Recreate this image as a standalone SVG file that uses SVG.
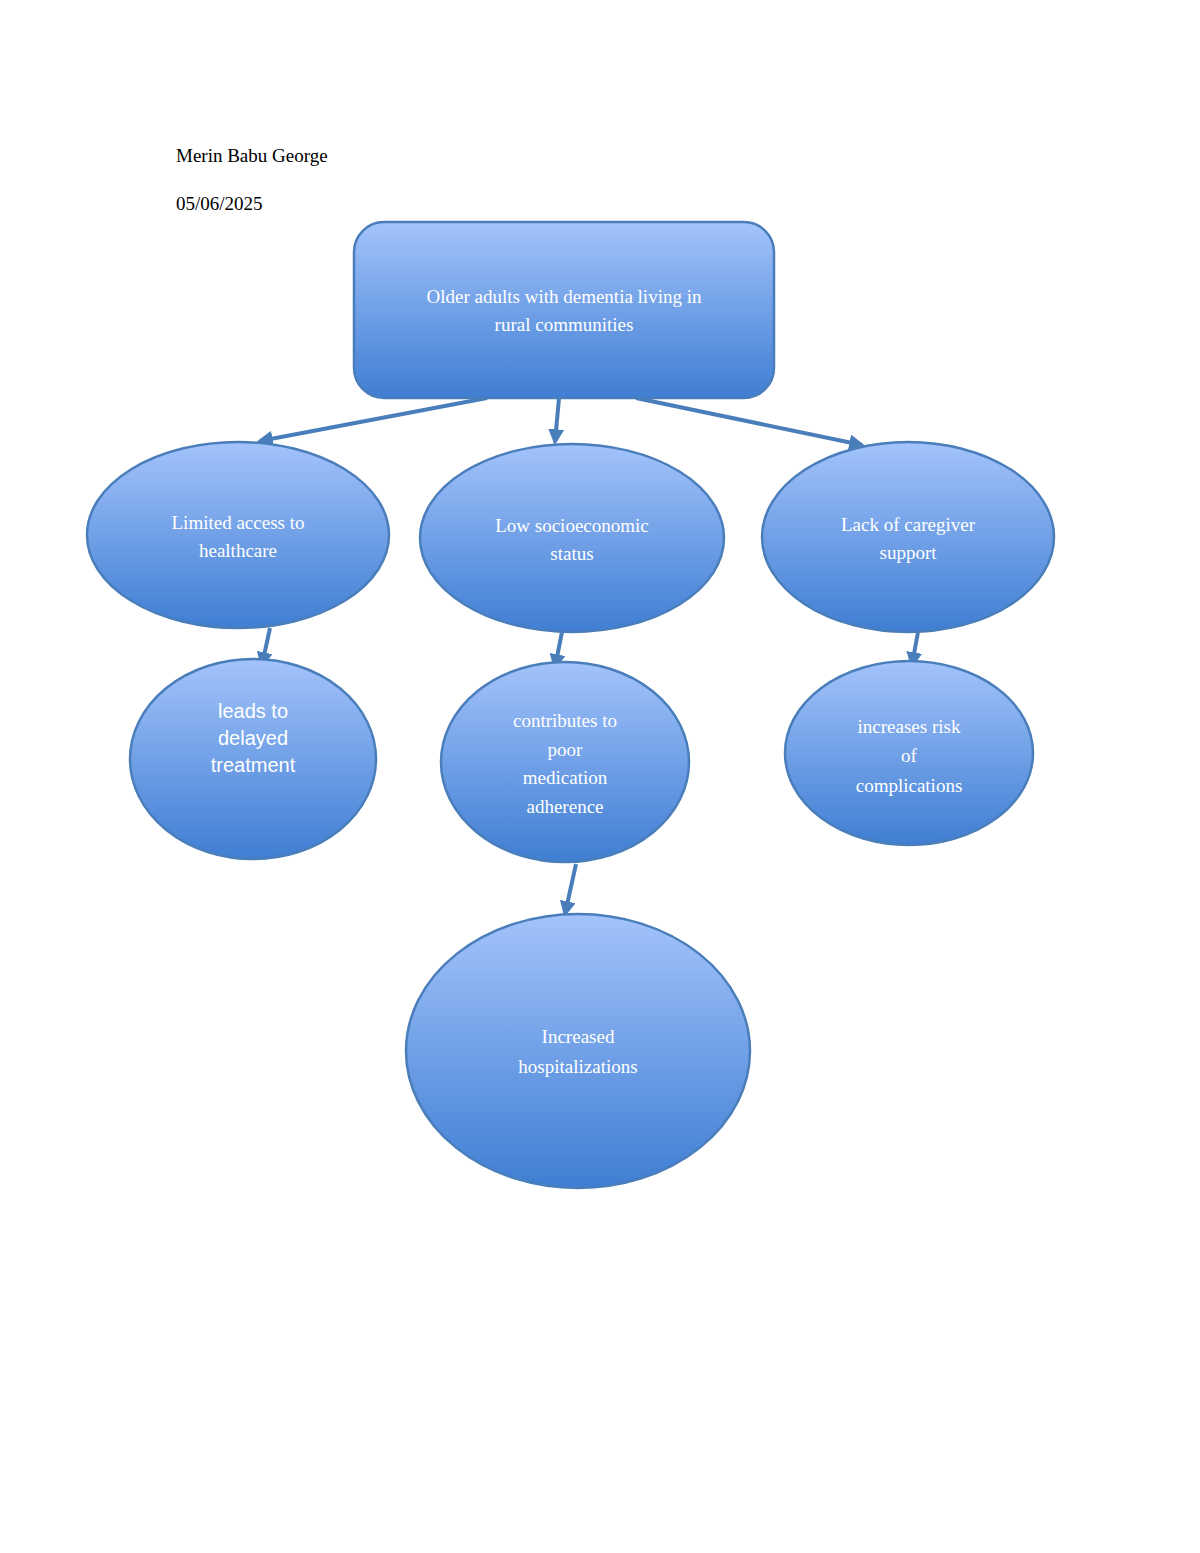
<svg xmlns="http://www.w3.org/2000/svg" width="1200" height="1553" viewBox="0 0 1200 1553">
<defs>
<linearGradient id="g" x1="0" y1="0" x2="0" y2="1">
<stop offset="0" stop-color="#a3c3fb"/><stop offset="1" stop-color="#3f7ed3"/>
</linearGradient>
<marker id="a" viewBox="0 0 10 10" refX="8" refY="5" markerWidth="4" markerHeight="4" orient="auto"><path d="M0,0 L10,5 L0,10 z" fill="#4a7ebb"/></marker>
</defs>
<style>
.n{fill:url(#g);stroke:#4a7ebb;stroke-width:2.5}
.t{fill:#fff;font-family:"Liberation Serif",serif;font-size:19px;text-anchor:middle}
.s{fill:#fff;font-family:"Liberation Sans",sans-serif;font-size:20px;text-anchor:middle}
.c{stroke:#4a7ebb;stroke-width:4;fill:none;marker-end:url(#a)}
.h{font-family:"Liberation Serif",serif;font-size:19px;fill:#000}
</style>
<rect width="1200" height="1553" fill="#fff"/>
<text class="h" x="176" y="162">Merin Babu George</text>
<text class="h" x="176" y="210">05/06/2025</text>
<g id="connectors">
<line class="c" x1="487" y1="398" x2="260" y2="441"/>
<line class="c" x1="559" y1="398" x2="555" y2="442"/>
<line class="c" x1="636" y1="398" x2="862" y2="445"/>
<line class="c" x1="270" y1="628" x2="262" y2="665"/>
<line class="c" x1="562" y1="632" x2="555" y2="667"/>
<line class="c" x1="918" y1="632" x2="912" y2="665"/>
<line class="c" x1="576" y1="864" x2="565" y2="914"/>
</g>
<g id="root"><rect class="n" x="354" y="222" width="420" height="176" rx="30"/>
<text class="t" x="564" y="303">Older adults with dementia living in</text><text class="t" x="564" y="331">rural communities</text></g>
<g id="n1"><ellipse class="n" cx="238" cy="535" rx="151" ry="93"/>
<text class="t" x="238" y="529">Limited access to</text><text class="t" x="238" y="557">healthcare</text></g>
<g id="n2"><ellipse class="n" cx="572" cy="538" rx="152" ry="94"/>
<text class="t" x="572" y="532">Low socioeconomic</text><text class="t" x="572" y="560">status</text></g>
<g id="n3"><ellipse class="n" cx="908" cy="537" rx="146" ry="95"/>
<text class="t" x="908" y="531">Lack of caregiver</text><text class="t" x="908" y="559">support</text></g>
<g id="n4"><ellipse class="n" cx="253" cy="759" rx="123" ry="100"/>
<text class="s" x="253" y="718">leads to</text><text class="s" x="253" y="745">delayed</text><text class="s" x="253" y="772">treatment</text></g>
<g id="n5"><ellipse class="n" cx="565" cy="762" rx="124" ry="100"/>
<text class="t" x="565" y="727">contributes to</text><text class="t" x="565" y="756">poor</text><text class="t" x="565" y="784">medication</text><text class="t" x="565" y="813">adherence</text></g>
<g id="n6"><ellipse class="n" cx="909" cy="753" rx="124" ry="92"/>
<text class="t" x="909" y="733">increases risk</text><text class="t" x="909" y="762">of</text><text class="t" x="909" y="792">complications</text></g>
<g id="n7"><ellipse class="n" cx="578" cy="1051" rx="172" ry="137"/>
<text class="t" x="578" y="1043">Increased</text><text class="t" x="578" y="1073">hospitalizations</text></g>
</svg>
